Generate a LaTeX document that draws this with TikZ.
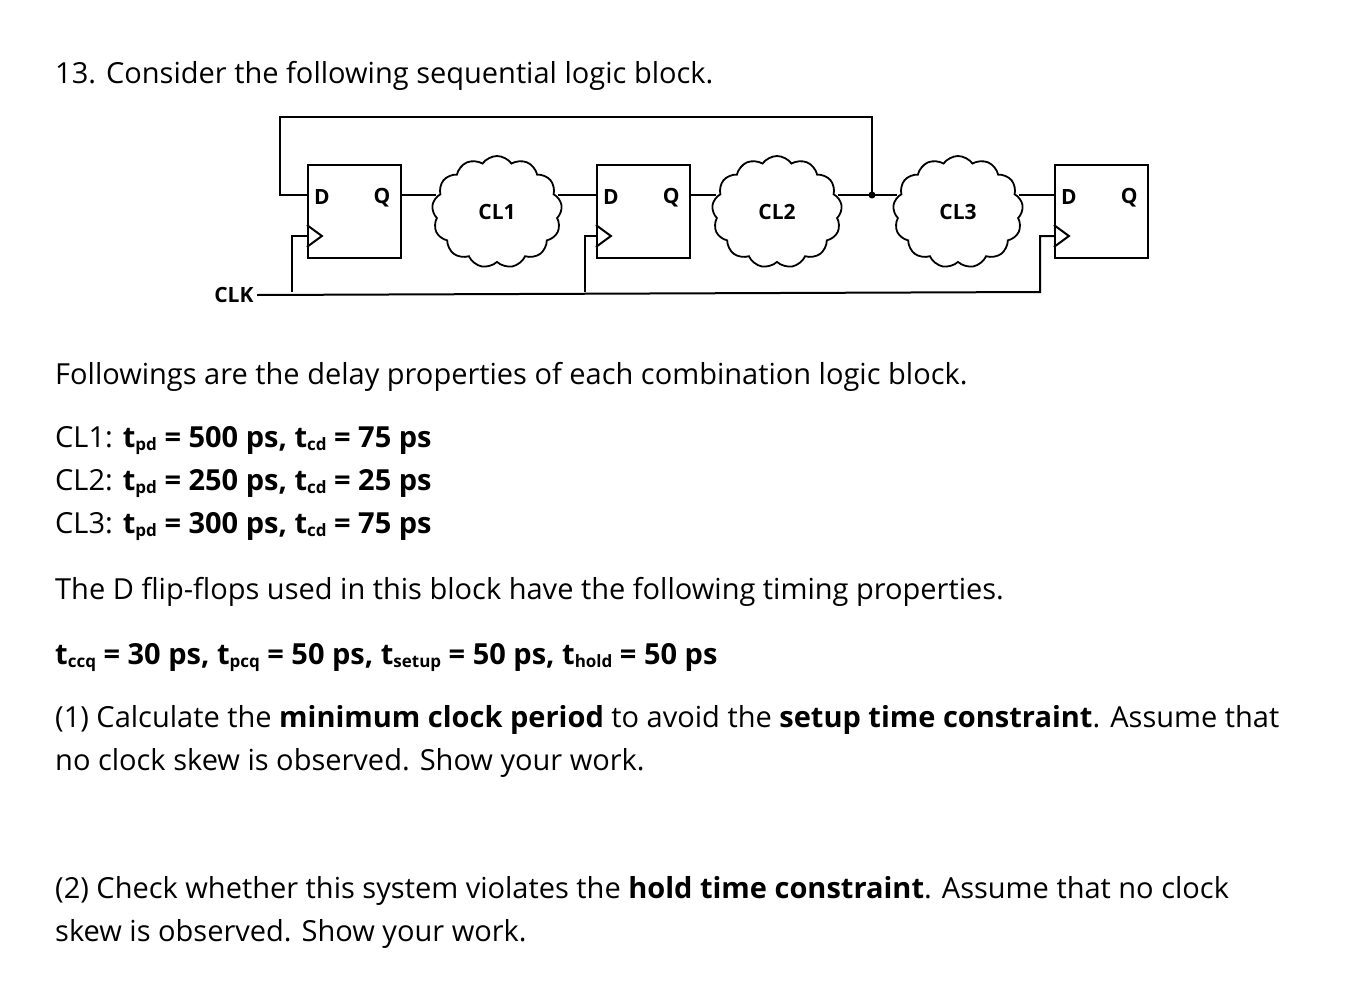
\documentclass[tikz,border=0pt]{standalone}
\usepackage{fontspec}
\setmainfont{Open Sans}
\usetikzlibrary{shapes.symbols}
\newcommand{\mysub}[1]{\raisebox{-0.25ex}{\fontsize{17}{17}\selectfont #1}}
\begin{document}
\begin{tikzpicture}[x=1pt,y=-1pt,
  ff/.style={draw,line width=2.2pt,minimum width=93pt,minimum height=93pt,inner sep=0},
  cl/.style={cloud,draw,line width=1.8pt,cloud puffs=13,cloud puff arc=110,aspect=1.2,minimum width=130pt,minimum height=112pt,font=\fontsize{21}{21}\selectfont\bfseries},
  w/.style={line width=2pt},
  lbl/.style={font=\fontsize{21}{21}\selectfont\bfseries},
  txt/.style={anchor=base west,inner sep=0,font=\fontsize{29}{34}\selectfont}]
\useasboundingbox (0,0) rectangle (1348,1004);
\fill[white] (0,0) rectangle (1348,1004);
\node[txt] (t0) at (55,83) {13. Consider the following sequential logic block.};
% flip-flops
\node[ff] (f1) at (354.5,211.5) {};
\node[ff] (f2) at (643.5,211.5) {};
\node[ff] (f3) at (1101.5,211.5) {};
\foreach \f in {f1,f2,f3}{
  \node[lbl] at ([xshift=15pt,yshift=14pt]\f.west) {D};
  \node[lbl] at ([xshift=-20pt,yshift=14pt]\f.east) {Q};
  \draw[w] ([yshift=-13.5pt]\f.west) -- ++(15,11) -- ++(-15,11);
}
\node[cl] (c1) at (497,212) {CL1};
\node[cl] (c2) at (777,212) {CL2};
\node[cl] (c3) at (958,212) {CL3};
\coordinate (j) at (872,195);
\draw[w] ([yshift=16.5pt]f1.east) -- ([xshift=4pt]c1.west |- 0,195);
\draw[w] ([xshift=-4pt]c1.east |- 0,195) -- ([yshift=16.5pt]f2.west);
\draw[w] ([yshift=16.5pt]f2.east) -- ([xshift=4pt]c2.west |- 0,195);
\draw[w] ([xshift=-4pt]c2.east |- 0,195) -- (j) -- ([xshift=4pt]c3.west |- 0,195);
\draw[w] ([xshift=-4pt]c3.east |- 0,195) -- ([yshift=16.5pt]f3.west);
\fill (j) circle (3.5pt);
\draw[w] (j) -- (872,117) -- (280,117) -- (280,195) -- ([yshift=16.5pt]f1.west);
\node[lbl,anchor=east] (clk) at (257,295) {CLK};
\draw[w] (clk.east) -- (1040,292) -- (1040,236) -- ([yshift=-24.5pt]f3.west);
\draw[w] (292,292) -- (292,236) -- ([yshift=-24.5pt]f1.west);
\draw[w] (585,292) -- (585,236) -- ([yshift=-24.5pt]f2.west);
% text
\node[txt] (t1) at (55,384) {Followings are the delay properties of each combination logic block.};
\node[txt] (t2) at (55,447) {CL1: \textbf{t\mysub{pd} = 500 ps, t\mysub{cd} = 75 ps}};
\node[txt] (t3) at (55,490) {CL2: \textbf{t\mysub{pd} = 250 ps, t\mysub{cd} = 25 ps}};
\node[txt] (t4) at (55,533) {CL3: \textbf{t\mysub{pd} = 300 ps, t\mysub{cd} = 75 ps}};
\node[txt] (t5) at (55,599) {The D flip-flops used in this block have the following timing properties.};
\node[txt] (t6) at (55,664) {\textbf{t\mysub{ccq} = 30 ps, t\mysub{pcq} = 50 ps, t\mysub{setup} = 50 ps, t\mysub{hold} = 50 ps}};
\node[txt] (t7) at (55,727) {(1) Calculate the \textbf{minimum clock period} to avoid the \textbf{setup time constraint}. Assume that};
\node[txt] (t7b) at (55,770) {no clock skew is observed. Show your work.};
\node[txt] (t8) at (55,898) {(2) Check whether this system violates the \textbf{hold time constraint}. Assume that no clock};
\node[txt] (t8b) at (55,941) {skew is observed. Show your work.};
\end{tikzpicture}
\end{document}
